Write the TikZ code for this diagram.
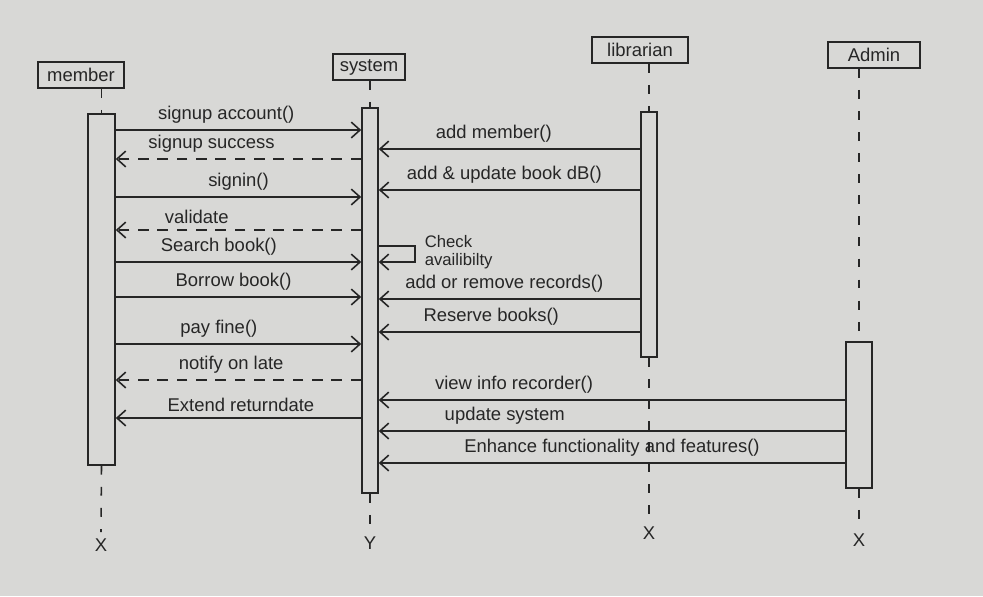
\documentclass[tikz,border=0pt]{standalone}
\usepackage{fontspec}
\setmainfont{Liberation Sans}
\usetikzlibrary{arrows.meta,fit}
\definecolor{paper}{RGB}{216,216,214}
\definecolor{ink}{RGB}{38,38,38}

\begin{document}
\begin{tikzpicture}[x=0.02cm,y=-0.02cm,font=\fontsize{10.5}{12}\selectfont,
  >={Straight Barb[length=5pt,width=9pt]},ink,line width=0.9pt,
  head/.style={draw,minimum height=0.52cm,inner sep=2pt},
  bar/.style={draw,inner sep=0pt},
  life/.style={dash pattern=on 5pt off 7pt},
  ret/.style={->,dash pattern=on 6pt off 5pt}]
\fill[paper] (0,0) rectangle (983,596);
% heads
\node[head,minimum width=1.72cm] (memBox) at (81,75) {member};
\node[head,minimum width=1.44cm] (sysBox) at (369,67) {system};
\node[head,minimum width=1.92cm] (libBox) at (640,50) {librarian};
\node[head,minimum width=1.84cm] (admBox) at (874,55) {Admin};
% activation bars
\node[bar,fit={(88,114) (115,465)}] (memBar) {};
\node[bar,fit={(362,108) (378,493)}] (sysBar) {};
\node[bar,fit={(641,112) (657,357)}] (libBar) {};
\node[bar,fit={(846,342) (872,488)}] (admBar) {};
% ends
\node (memEnd) at (101,545) {X};
\node (sysEnd) at (370,543) {Y};
\node (libEnd) at (649,533) {X};
\node (admEnd) at (859,540) {X};
% lifelines
\draw[life] (memBox.south -| memBar.north) -- (memBar.north);
\draw[life] (sysBox.south -| sysBar.north) -- (sysBar.north);
\draw[life] (libBox.south -| libBar.north) -- (libBar.north);
\draw[life] (admBox.south -| admBar.north) -- (admBar.north);
\draw[life] (memBar.south) -- (memEnd.north);
\draw[life] (sysBar.south) -- (sysEnd.north);
\draw[life] (libBar.south) -- (libEnd.north);
\draw[life] (admBar.south) -- (admEnd.north);
% member <-> system
\draw[->] (memBar.east |- 0,130) -- (sysBar.west |- 0,130) node[above,pos=0.45] {signup account()};
\draw[ret] (sysBar.west |- 0,159) -- (memBar.east |- 0,159) node[above,pos=0.61] {signup success};
\draw[->] (memBar.east |- 0,197) -- (sysBar.west |- 0,197) node[above,pos=0.5] {signin()};
\draw[ret] (sysBar.west |- 0,230) -- (memBar.east |- 0,230) node[above,pos=0.67] {validate};
\draw[->] (memBar.east |- 0,262) -- (sysBar.west |- 0,262) node[above,pos=0.42] {Search book()};
\draw[->] (memBar.east |- 0,297) -- (sysBar.west |- 0,297) node[above,pos=0.48] {Borrow book()};
\draw[->] (memBar.east |- 0,344) -- (sysBar.west |- 0,344) node[above,pos=0.42] {pay fine()};
\draw[ret] (sysBar.west |- 0,380) -- (memBar.east |- 0,380) node[above,pos=0.53] {notify on late};
\draw[->] (sysBar.west |- 0,418) -- (memBar.east |- 0,418) node[above,pos=0.49] {Extend returndate};
% self call
\draw[->] (sysBar.east |- 0,246) -- ++(36,0) |- (sysBar.east |- 0,262);
\node[align=left,anchor=west,inner sep=0pt,font=\fontsize{9.5}{10}\selectfont] (chk) at (424,252) {Check\\availibilty};
% librarian -> system
\draw[->] (libBar.west |- 0,149) -- (sysBar.east |- 0,149) node[above,pos=0.56] {add member()};
\draw[->] (libBar.west |- 0,190) -- (sysBar.east |- 0,190) node[above,pos=0.52] {add \& update book dB()};
\draw[->] (libBar.west |- 0,299) -- (sysBar.east |- 0,299) node[above,pos=0.52] {add or remove records()};
\draw[->] (libBar.west |- 0,332) -- (sysBar.east |- 0,332) node[above,pos=0.57] {Reserve books()};
% admin -> system
\draw[->] (admBar.west |- 0,400) -- (sysBar.east |- 0,400) node[above,pos=0.71] {view info recorder()};
\draw[->] (admBar.west |- 0,431) -- (sysBar.east |- 0,431) node[above,pos=0.73] {update system};
\draw[->] (admBar.west |- 0,463) -- (sysBar.east |- 0,463) node[above,pos=0.5] {Enhance functionality and features()};
\end{tikzpicture}
\end{document}
